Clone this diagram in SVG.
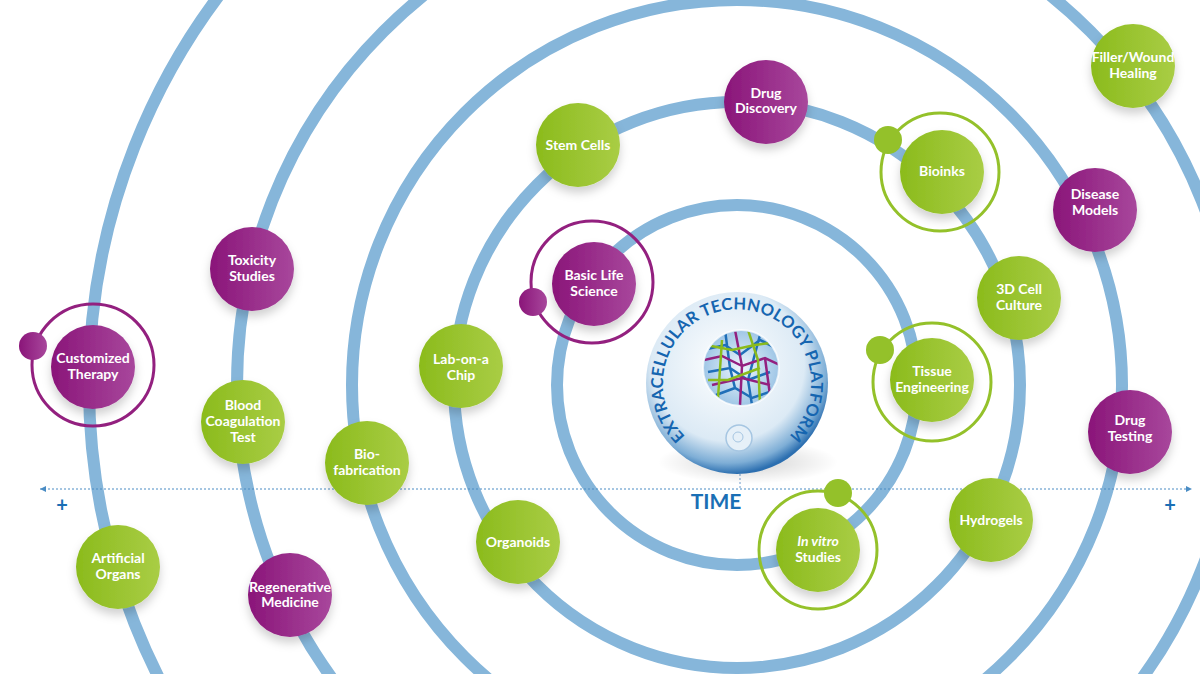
<svg xmlns="http://www.w3.org/2000/svg" width="1200" height="674" viewBox="0 0 1200 674">
<defs>
<linearGradient id="gP" x1="0" y1="0" x2="1" y2="0"><stop offset="0" stop-color="#8a1579"/><stop offset="1" stop-color="#a8479c"/></linearGradient>
<linearGradient id="gG" x1="0" y1="0" x2="1" y2="0"><stop offset="0" stop-color="#8bbb1c"/><stop offset="1" stop-color="#a9cd45"/></linearGradient>
<radialGradient id="gS" cx="0.45" cy="0.4" r="0.6"><stop offset="0" stop-color="#ffffff"/><stop offset="0.7" stop-color="#dceaf5"/><stop offset="0.9" stop-color="#7eaed6"/><stop offset="1" stop-color="#2c6fb0"/></radialGradient>
<radialGradient id="gC" cx="0.5" cy="0.5" r="0.5"><stop offset="0" stop-color="#eef6fc"/><stop offset="1" stop-color="#9fc6e6"/></radialGradient>
<radialGradient id="gSh" cx="0.5" cy="0.5" r="0.5"><stop offset="0" stop-color="#000" stop-opacity="0.18"/><stop offset="1" stop-color="#000" stop-opacity="0"/></radialGradient>
<filter id="sh" x="-30%" y="-30%" width="160%" height="170%"><feDropShadow dx="0" dy="6" stdDeviation="5" flood-color="#000" flood-opacity="0.18"/></filter>
<marker id="ar" markerWidth="8" markerHeight="8" refX="6" refY="3" orient="auto-start-reverse"><path d="M0,0 L6,3 L0,6 z" fill="#4a8cc4"/></marker>
<clipPath id="net"><circle cx="741" cy="368" r="37"/></clipPath>
<path id="arc" d="M 684 435 A 74 74 0 1 1 790 435"/>
</defs>
<style>
.ring{fill:none;stroke:#86b6da;stroke-width:12}
.p{fill:url(#gP);filter:url(#sh)}
.g{fill:url(#gG);filter:url(#sh)}
.orP{fill:none;stroke:#93207f;stroke-width:3}
.orG{fill:none;stroke:#94c12a;stroke-width:3}
.t{font-family:"Lato","Open Sans",sans-serif;font-weight:bold;font-size:14px;fill:#fff;text-anchor:middle}
</style>
<rect width="1200" height="674" fill="#fff"/>
<g id="rings">
<circle class="ring" cx="737" cy="385" r="180"/>
<circle class="ring" cx="737" cy="385" r="283"/>
<circle class="ring" cx="737" cy="385" r="385"/>
<circle class="ring" cx="737" cy="385" r="500"/>
<circle class="ring" cx="737" cy="385" r="648"/>
</g>
<g id="connectors">
<line x1="40" y1="489" x2="1192" y2="489" stroke="#4a8cc4" stroke-width="1" stroke-dasharray="2,2" marker-start="url(#ar)" marker-end="url(#ar)"/>
<line x1="740" y1="470" x2="740" y2="489" stroke="#6e9ccc" stroke-width="1" stroke-dasharray="2,2"/>
</g>
<g id="axis-labels" font-family="Lato,'Open Sans',sans-serif" font-weight="bold" fill="#1a6fb5">
<text x="62" y="512" font-size="20" text-anchor="middle">+</text>
<text x="1170" y="512" font-size="20" text-anchor="middle">+</text>
<text x="716" y="509" font-size="21" text-anchor="middle">TIME</text>
</g>
<g id="platform">
<ellipse cx="748" cy="462" rx="90" ry="22" fill="url(#gSh)"/>
<circle cx="737" cy="383" r="91" fill="url(#gS)"/>
<circle cx="741" cy="368" r="38" fill="url(#gC)"/>
<g clip-path="url(#net)" fill="none" stroke-width="2.5">
<path d="M703 350 L725 345 L740 355 L760 340 L780 350 M708 372 L730 368 L748 380 L770 372 M716 395 L735 388 L752 398 L775 390 M725 330 L730 368 L735 388 M760 335 L748 380 L752 405" stroke="#1f6fb8"/>
<path d="M704 360 L722 356 L742 366 L765 358 L780 365 M712 385 L742 378 L770 385 M735 330 L742 366 L740 405 M765 358 L770 395" stroke="#93207f"/>
<path d="M706 345 L732 350 L755 345 L778 342 M708 380 L728 380 L760 368 M748 330 L758 360 L760 405 M722 340 L718 398" stroke="#8bbb1c"/>
</g>
<circle cx="741" cy="368" r="38" fill="none" stroke="#ffffff" stroke-width="2" opacity="0.7"/>
<circle cx="739" cy="438" r="13" fill="#e6f0f8" stroke="#a6c6e2" stroke-width="1.5"/>
<circle cx="738" cy="437" r="5" fill="none" stroke="#a6c6e2" stroke-width="1"/>
<text font-family="Lato,'Open Sans',sans-serif" font-weight="bold" font-size="16.5" fill="#1565b0" letter-spacing="0.3"><textPath href="#arc" startOffset="50%" text-anchor="middle">EXTRACELLULAR TECHNOLOGY PLATFORM</textPath></text>
</g>
<g id="n-stem"><circle class="g" cx="578" cy="145" r="42"/><text class="t" x="578" y="150">Stem Cells</text></g>
<g id="n-drugdisc"><circle class="p" cx="766" cy="102" r="42"/><text class="t" x="766" y="98">Drug</text><text class="t" x="766" y="113">Discovery</text></g>
<g id="n-bioinks"><circle class="orG" cx="940" cy="172" r="59"/><circle cx="888" cy="140" r="14" fill="#94c12a"/><circle class="g" cx="942" cy="172" r="42"/><text class="t" x="942" y="176">Bioinks</text></g>
<g id="n-filler"><circle class="g" cx="1133" cy="66" r="42"/><text class="t" x="1133" y="62">Filler/Wound</text><text class="t" x="1133" y="78">Healing</text></g>
<g id="n-disease"><circle class="p" cx="1095" cy="210" r="42"/><text class="t" x="1095" y="199">Disease</text><text class="t" x="1095" y="215">Models</text></g>
<g id="n-3d"><circle class="g" cx="1019" cy="298" r="42"/><text class="t" x="1019" y="294">3D Cell</text><text class="t" x="1019" y="310">Culture</text></g>
<g id="n-tissue"><circle class="orG" cx="932" cy="382" r="59"/><circle cx="880" cy="350" r="14" fill="#94c12a"/><circle class="g" cx="932" cy="380" r="42"/><text class="t" x="932" y="376">Tissue</text><text class="t" x="932" y="392">Engineering</text></g>
<g id="n-drugtest"><circle class="p" cx="1130" cy="432" r="42"/><text class="t" x="1130" y="425">Drug</text><text class="t" x="1130" y="441">Testing</text></g>
<g id="n-hydro"><circle class="g" cx="991" cy="520" r="42"/><text class="t" x="991" y="525">Hydrogels</text></g>
<g id="n-invitro"><circle class="orG" cx="818" cy="550" r="59"/><circle cx="838" cy="493" r="14" fill="#94c12a"/><circle class="g" cx="818" cy="550" r="42"/><text class="t" x="818" y="546"><tspan font-style="italic">In vitro</tspan></text><text class="t" x="818" y="562">Studies</text></g>
<g id="n-basic"><circle class="orP" cx="592" cy="282" r="61"/><circle cx="533" cy="302" r="14" fill="url(#gP)"/><circle class="p" cx="594" cy="284" r="42"/><text class="t" x="594" y="280">Basic Life</text><text class="t" x="594" y="296">Science</text></g>
<g id="n-custom"><circle class="orP" cx="93" cy="365" r="61"/><circle cx="33" cy="346" r="14" fill="url(#gP)"/><circle class="p" cx="93" cy="367" r="42"/><text class="t" x="93" y="363">Customized</text><text class="t" x="93" y="379">Therapy</text></g>
<g id="n-tox"><circle class="p" cx="252" cy="269" r="42"/><text class="t" x="252" y="265">Toxicity</text><text class="t" x="252" y="281">Studies</text></g>
<g id="n-blood"><circle class="g" cx="243" cy="422" r="42"/><text class="t" x="243" y="410">Blood</text><text class="t" x="243" y="426">Coagulation</text><text class="t" x="243" y="442">Test</text></g>
<g id="n-regen"><circle class="p" cx="290" cy="595" r="42"/><text class="t" x="290" y="592" font-size="12.5">Regenerative</text><text class="t" x="290" y="607" font-size="12.5">Medicine</text></g>
<g id="n-artif"><circle class="g" cx="118" cy="567" r="42"/><text class="t" x="118" y="563">Artificial</text><text class="t" x="118" y="579">Organs</text></g>
<g id="n-biofab"><circle class="g" cx="367" cy="463" r="42"/><text class="t" x="367" y="459">Bio-</text><text class="t" x="367" y="475">fabrication</text></g>
<g id="n-lab"><circle class="g" cx="461" cy="366" r="42"/><text class="t" x="461" y="364">Lab-on-a</text><text class="t" x="461" y="380">Chip</text></g>
<g id="n-org"><circle class="g" cx="518" cy="542" r="42"/><text class="t" x="518" y="547">Organoids</text></g>
</svg>
